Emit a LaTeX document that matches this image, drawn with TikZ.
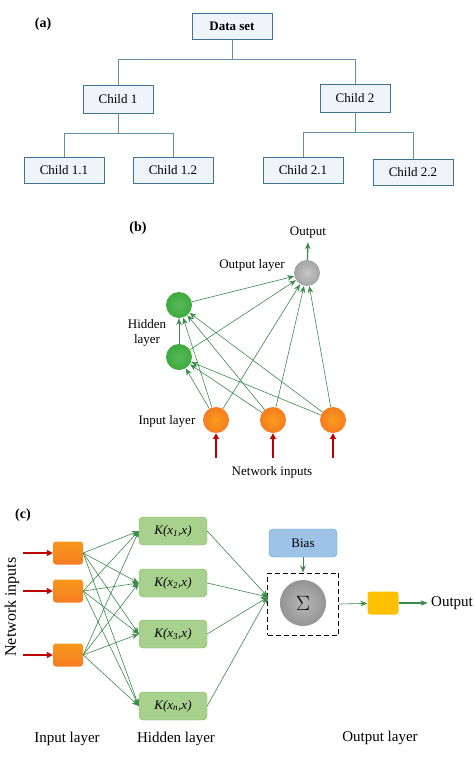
\documentclass[tikz,border=0pt]{standalone}
\usepackage{fontspec}
\setmainfont{Liberation Serif}
\usetikzlibrary{arrows.meta,positioning}

\definecolor{treefill}{HTML}{EEF4F8}
\definecolor{treeline}{HTML}{41728E}
\definecolor{edgegreen}{HTML}{3C8A4A}
\definecolor{inred}{HTML}{C00000}
\definecolor{nodeorange}{HTML}{F67C22}
\definecolor{nodegreen}{HTML}{3DAA3D}
\definecolor{kfill}{HTML}{A9D18E}
\definecolor{kline}{HTML}{7AB85F}
\definecolor{biasfill}{HTML}{9DC3E6}
\definecolor{biasline}{HTML}{5B9BD5}
\definecolor{outyellow}{HTML}{FFC000}

\begin{document}
\begin{tikzpicture}[x=1pt, y=-1pt,
    treebox/.style={draw=treeline, fill=treefill, minimum width=80pt, minimum height=26pt, font=\fontsize{13}{15}\selectfont},
    treeline/.style={draw=treeline!80, line width=0.8pt},
    neuron/.style={circle, minimum size=26pt, inner sep=0pt},
    wire/.style={draw=edgegreen, line width=0.6pt, -{Stealth[length=7pt, width=5.5pt]}},
    feed/.style={draw=inred, line width=1.4pt, -{Triangle[length=6pt, width=6pt]}},
    lab/.style={font=\fontsize{13}{15}\selectfont},
    labc/.style={font=\fontsize{15}{17}\selectfont},
    inbox/.style={rounded corners=3pt, minimum width=30pt, minimum height=23pt, inner sep=0pt, top color=nodeorange!80!yellow, bottom color=nodeorange},
    kbox/.style={draw=kline, fill=kfill, rounded corners=4pt, minimum width=68pt, minimum height=28pt, font=\fontsize{13}{15}\selectfont}]
  \useasboundingbox (0,0) rectangle (474,766);

  % (a) decision tree
  \node[font=\fontsize{14}{16}\selectfont\bfseries] (taga) at (43,24) {(a)};
  \node[treebox, font=\fontsize{13}{15}\selectfont\bfseries] (data) at (232,26) {Data set};
  \node[treebox, minimum width=70pt, minimum height=28pt] (c1) at (118,99) {Child 1};
  \node[treebox, minimum width=70pt, minimum height=28pt] (c2) at (355,98) {Child 2};
  \node[treebox] (c11) at (64,170) {Child 1.1};
  \node[treebox] (c12) at (173,170) {Child 1.2};
  \node[treebox] (c21) at (303,170) {Child 2.1};
  \node[treebox] (c22) at (413,172) {Child 2.2};

  \draw[treeline] (data.south) -- ++(0,20) coordinate (b0);
  \draw[treeline] (c1.north) |- (b0) -| (c2.north);
  \draw[treeline] (c1.south) -- ++(0,20) coordinate (b1);
  \draw[treeline] (c11.north) |- (b1) -| (c12.north);
  \draw[treeline] (c2.south) -- ++(0,20) coordinate (b2);
  \draw[treeline] (c21.north) |- (b2) -| (c22.north);

  % (b) network
  \node[font=\fontsize{14}{16}\selectfont\bfseries] (tagb) at (138,228) {(b)};
  \node[neuron, shade, inner color=black!22, outer color=black!36] (out) at (307,273) {};
  \node[neuron, shade, inner color=nodegreen!85!white, outer color=nodegreen] (h1) at (179,305) {};
  \node[neuron, shade, inner color=nodegreen!85!white, outer color=nodegreen] (h2) at (179,357) {};
  \foreach \n/\x in {1/216, 2/273, 3/333}{
    \node[neuron, shade, inner color=nodeorange!75!yellow, outer color=nodeorange] (i\n) at (\x,420) {};
    \coordinate (r\n) at (\x,458);
    \draw[feed] (r\n) -- (i\n);
    \foreach \t in {h1, h2, out}{
      \draw[wire] (i\n) -- (\t);
    }
  }
  \draw[wire] (h2) -- (h1);
  \draw[wire] (h1) -- (out);
  \draw[wire] (h2) -- (out);
  \node[lab] (outtxt) at (308,233) {Output};
  \draw[wire, line width=1.2pt] (out) -- (outtxt.south);
  \node[lab] (outlay) at (252,265) {Output layer};
  \node[lab, align=center] (hidlay) at (147,333) {Hidden\\layer};
  \node[lab] (inlay) at (167,421) {Input layer};
  \node[lab] (netin) at (272,472) {Network inputs};

  % (c) kernel network
  \node[font=\fontsize{14}{16}\selectfont\bfseries] (tagc) at (23,515) {(c)};
  \node[font=\fontsize{16}{18}\selectfont, rotate=90] (netinc) at (12,607) {Network inputs};
  \foreach \n/\y in {1/553, 2/591, 3/655}{
    \node[inbox] (in\n) at (68,\y) {};
    \coordinate (s\n) at (23,\y);
    \draw[feed] (s\n) -- (in\n);
  }
  \node[kbox] (k1) at (173,531) {\textit{K(x\textsubscript{1},x)}};
  \node[kbox] (k2) at (173,583) {\textit{K(x\textsubscript{2},x)}};
  \node[kbox] (k3) at (173,634) {\textit{K(x\textsubscript{3},x)}};
  \node[kbox] (k4) at (173,706) {\textit{K(x\textsubscript{n},x)}};
  \node[draw=biasline, fill=biasfill, rounded corners=4pt, minimum width=68pt, minimum height=28pt, font=\fontsize{13}{15}\selectfont] (bias) at (303,543) {Bias};
  \node[draw, dash pattern=on 5pt off 3pt, line width=1pt, minimum width=71pt, minimum height=62pt] (sumbox) at (303,604) {};
  \node[circle, minimum size=46pt, inner sep=0pt, shade, inner color=black!28, outer color=black!42, font=\fontsize{20}{22}\selectfont] (sum) at (303,603) {$\Sigma$};
  \node[rounded corners=3pt, minimum width=31pt, minimum height=23pt, fill=outyellow] (act) at (383,603) {};
  \node[labc] (outc) at (452,603) {Output};
  \coordinate (sumin) at (268,597);

  \foreach \a in {1,2,3}{
    \foreach \b in {1,2,3,4}{
      \draw[wire] (in\a.east) -- (k\b.west);
    }
  }
  \foreach \b in {1,2,3,4}{
    \draw[wire] (k\b.east) -- (sumin);
  }
  \draw[wire] (bias) -- (sumbox);
  \draw[wire] (sumbox.east) -- (act);
  \draw[wire, line width=1.2pt] (act) -- (outc);

  \node[labc] (inlayc) at (67,739) {Input layer};
  \node[labc] (hidlayc) at (176,739) {Hidden layer};
  \node[labc] (outlayc) at (380,738) {Output layer};
\end{tikzpicture}
\end{document}
